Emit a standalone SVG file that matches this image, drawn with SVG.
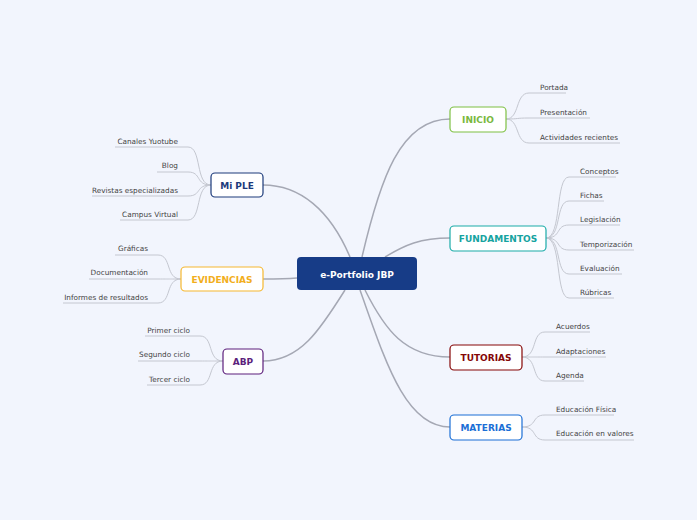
<svg xmlns="http://www.w3.org/2000/svg" width="697" height="520" viewBox="0 0 697 520">
<style>
.n{fill:#fff;stroke-width:1.2}
.t{font-family:"DejaVu Sans",sans-serif;font-weight:bold;font-size:9px;text-anchor:middle}
.l{font-family:"DejaVu Sans",sans-serif;font-size:7.3px;fill:#444}
.r{text-anchor:end}
.m{fill:none;stroke:#a5a8b4;stroke-width:1.5}
.s{fill:none;stroke:#c4c7d0;stroke-width:1}
</style>
<rect width="697" height="520" fill="#f2f5fd"/>
<g id="connectors">
<path class="m" d="M362,257 C380,180 400,119 450,119"/>
<path class="m" d="M385,257 C405,245 420,238 450,238"/>
<path class="m" d="M365,290 C385,330 405,357 450,357"/>
<path class="m" d="M360,290 C385,360 405,427 450,427"/>
<path class="m" d="M350,257 C330,210 300,185 263,185"/>
<path class="m" d="M297,278 C285,279 275,279 263,279"/>
<path class="m" d="M345,290 C320,330 300,361 263,361"/>
<path class="s" d="M506,119 C520,119 515,93 529,93 H566"/>
<path class="s" d="M506,119 C520,119 515,118 529,118 H590"/>
<path class="s" d="M506,119 C520,119 515,143 529,143 H620"/>
<path class="s" d="M546,238 C562,238 555,177 569,177 H616"/>
<path class="s" d="M546,238 C562,238 555,201 569,201 H604"/>
<path class="s" d="M546,238 C562,238 555,225 569,225 H620"/>
<path class="s" d="M546,238 C562,238 555,250 569,250 H634"/>
<path class="s" d="M546,238 C562,238 555,274 569,274 H622"/>
<path class="s" d="M546,238 C562,238 555,298 569,298 H614"/>
<path class="s" d="M522,357 C538,357 531,332 545,332 H590"/>
<path class="s" d="M522,357 C538,357 531,357 545,357 H606"/>
<path class="s" d="M522,357 C538,357 531,381 545,381 H584"/>
<path class="s" d="M522,427 C538,427 531,415 545,415 H614"/>
<path class="s" d="M522,427 C538,427 531,440 545,440 H634"/>
<path class="s" d="M211,185 C195,185 202,147 188,147 H115"/>
<path class="s" d="M211,185 C195,185 202,172 188,172 H157"/>
<path class="s" d="M211,185 C195,185 202,196 188,196 H92"/>
<path class="s" d="M211,185 C195,185 202,220 188,220 H120"/>
<path class="s" d="M181,279 C165,279 172,255 158,255 H115"/>
<path class="s" d="M181,279 C165,279 172,279 158,279 H89"/>
<path class="s" d="M181,279 C165,279 172,303 158,303 H63"/>
<path class="s" d="M223,361 C207,361 214,336 200,336 H145"/>
<path class="s" d="M223,361 C207,361 214,361 200,361 H138"/>
<path class="s" d="M223,361 C207,361 214,385 200,385 H147"/>
</g>
<g id="center"><rect x="297" y="257" width="120" height="33" rx="4" fill="#173c87"/><text class="t" x="357" y="278" fill="#fff" font-size="11">e-Portfolio JBP</text></g>
<g id="inicio"><rect class="n" x="450" y="107" width="56" height="25" rx="4" stroke="#7ec043"/><text class="t" x="478" y="123" fill="#7ab83e">INICIO</text></g>
<g id="fundamentos"><rect class="n" x="450" y="226" width="96" height="25" rx="4" stroke="#1aaba8"/><text class="t" x="498" y="242" fill="#16a3a0">FUNDAMENTOS</text></g>
<g id="tutorias"><rect class="n" x="450" y="345" width="72" height="25" rx="4" stroke="#850606"/><text class="t" x="486" y="361" fill="#850606">TUTORIAS</text></g>
<g id="materias"><rect class="n" x="450" y="415" width="72" height="25" rx="4" stroke="#1b6fd6"/><text class="t" x="486" y="431" fill="#1b6fd6">MATERIAS</text></g>
<g id="mple"><rect class="n" x="211" y="173" width="52" height="24" rx="4" stroke="#1c3a7b"/><text class="t" x="237" y="189" fill="#1c3a7b">Mi PLE</text></g>
<g id="evidencias"><rect class="n" x="181" y="267" width="82" height="24" rx="4" stroke="#f5b830"/><text class="t" x="222" y="283" fill="#f2ae1c">EVIDENCIAS</text></g>
<g id="abp"><rect class="n" x="223" y="349" width="40" height="25" rx="4" stroke="#5c1f7c"/><text class="t" x="243" y="365" fill="#5c1f7c">ABP</text></g>
<g id="leaves">
<text class="l" x="540" y="90">Portada</text>
<text class="l" x="540" y="115">Presentación</text>
<text class="l" x="540" y="140">Actividades recientes</text>
<text class="l" x="580" y="174">Conceptos</text>
<text class="l" x="580" y="198">Fichas</text>
<text class="l" x="580" y="222">Legislación</text>
<text class="l" x="580" y="247">Temporización</text>
<text class="l" x="580" y="271">Evaluación</text>
<text class="l" x="580" y="295">Rúbricas</text>
<text class="l" x="556" y="329">Acuerdos</text>
<text class="l" x="556" y="354">Adaptaciones</text>
<text class="l" x="556" y="378">Agenda</text>
<text class="l" x="556" y="412">Educación Física</text>
<text class="l" x="556" y="436">Educación en valores</text>
<text class="l r" x="178" y="144">Canales Yuotube</text>
<text class="l r" x="178" y="168">Blog</text>
<text class="l r" x="178" y="193">Revistas especializadas</text>
<text class="l r" x="178" y="217">Campus Virtual</text>
<text class="l r" x="148" y="251">Gráficas</text>
<text class="l r" x="148" y="275">Documentación</text>
<text class="l r" x="148" y="300">Informes de resultados</text>
<text class="l r" x="190" y="333">Primer ciclo</text>
<text class="l r" x="190" y="357">Segundo ciclo</text>
<text class="l r" x="190" y="382">Tercer ciclo</text>
</g>
</svg>
